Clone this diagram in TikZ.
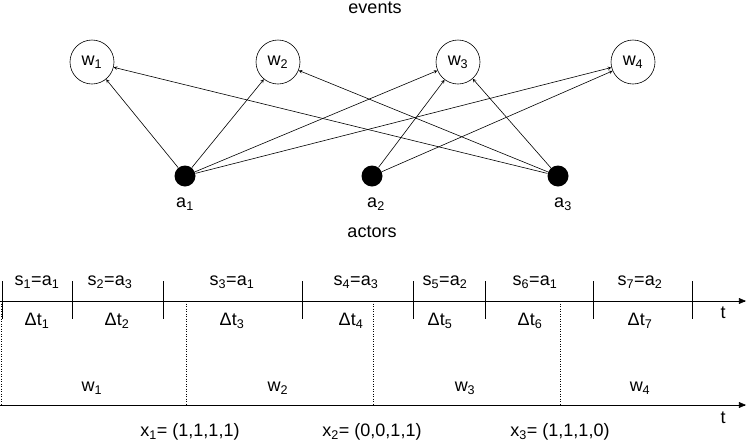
\documentclass[tikz,border=0pt]{standalone}
\usepackage{fontspec}
\setmainfont{Liberation Sans}
\usetikzlibrary{arrows}
\newcommand{\sub}[1]{\textsubscript{#1}}
\tikzstyle{event} = [circle, draw=black, minimum size=44pt, inner sep=0pt, font=\fontsize{18}{18}\selectfont]
\tikzstyle{actor} = [circle, fill=black, minimum size=21pt, inner sep=0pt]
\tikzstyle{lbl} = [font=\fontsize{18}{18}\selectfont]
\tikzstyle{arrow} = [->,>=stealth]
\tikzstyle{tick} = [line width=0.7pt]

\begin{document}
\begin{tikzpicture}[x=1pt,y=-1pt,line width=0.6pt]
\useasboundingbox (0,0) rectangle (748,445);
\node (events) [lbl] at (375,8) {events};
\node (w1) [event] at (92,62) {w\sub{1}};
\node (w2) [event] at (278,62) {w\sub{2}};
\node (w3) [event] at (458,62) {w\sub{3}};
\node (w4) [event] at (633,62) {w\sub{4}};
\node (a1) [actor] at (185,176) {};
\node (a2) [actor] at (372,176) {};
\node (a3) [actor] at (558,176) {};
\node [lbl] at (185,204) {a\sub{1}};
\node [lbl] at (376,204) {a\sub{2}};
\node [lbl] at (563,204) {a\sub{3}};
\node (actors) [lbl] at (372,232) {actors};
\draw [arrow] (a1) -- (w1);
\draw [arrow] (a1) -- (w2);
\draw [arrow] (a1) -- (w3);
\draw [arrow] (a1) -- (w4);
\draw [arrow] (a2) -- (w3);
\draw [arrow] (a2) -- (w4);
\draw [arrow] (a3) -- (w1);
\draw [arrow] (a3) -- (w2);
\draw [arrow] (a3) -- (w3);
% time axes
\coordinate (t1s) at (0,301);
\coordinate (t1e) at (746,301);
\coordinate (t2s) at (0,405);
\coordinate (t2e) at (746,405);
\draw [arrow, >=triangle 45] (t1s) -- (t1e);
\draw [arrow, >=triangle 45] (t2s) -- (t2e);
\node [lbl] at (723,313) {t};
\node [lbl] at (723,418) {t};
\foreach \x in {2,72,163,302,413,485,593,692}
  \draw [tick] (\x,281) -- (\x,319);
\foreach \x in {1,186,373,560}
  \draw [dotted, line width=0.5pt] (\x,301) -- (\x,405);
\foreach \x/\s in {37/{s\sub{1}=a\sub{1}},110/{s\sub{2}=a\sub{3}},232/{s\sub{3}=a\sub{1}},356/{s\sub{4}=a\sub{3}},445/{s\sub{5}=a\sub{2}},535/{s\sub{6}=a\sub{1}},640/{s\sub{7}=a\sub{2}}}
  \node [lbl] at (\x,282) {\s};
\foreach \x/\s in {37/1,117/2,232/3,351/4,440/5,530/6,640/7}
  \node [lbl] at (\x,321) {Δt\sub{\s}};
\foreach \x/\s in {92/1,278/2,465/3,640/4}
  \node [lbl] at (\x,388) {w\sub{\s}};
\foreach \x/\i/\v in {190/1/{(1,1,1,1)},372/2/{(0,0,1,1)},560/3/{(1,1,1,0)}}
  \node [lbl] at (\x,432) {x\sub{\i}= \v};
\end{tikzpicture}
\end{document}
